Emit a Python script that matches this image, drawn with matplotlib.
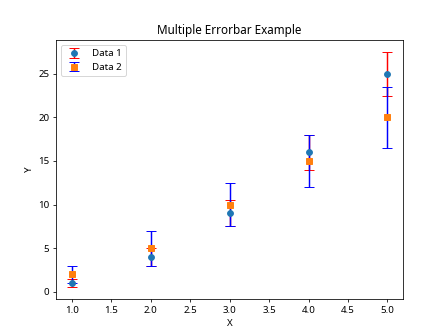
import matplotlib
matplotlib.use("Agg")
import matplotlib.pyplot as plt

plt.rcParams['font.family'] = ['Noto Sans', 'DejaVu Sans']

x = [1, 2, 3, 4, 5]
y1 = [1, 4, 9, 16, 25]
yerr1 = [0.5, 1.0, 1.5, 2.0, 2.5]
y2 = [2, 5, 10, 15, 20]
yerr2 = [1.0, 2.0, 2.5, 3.0, 3.5]

fig, ax = plt.subplots(figsize=(6.4, 4.8), dpi=70)
ax.errorbar(x, y1, yerr=yerr1, fmt='o', ecolor='red', capsize=5, label='Data 1')
ax.errorbar(x, y2, yerr=yerr2, fmt='s', ecolor='blue', capsize=5, label='Data 2')
ax.set_title('Multiple Errorbar Example')
ax.set_xlabel('X')
ax.set_ylabel('Y')
ax.legend(loc='upper left')
fig.savefig('out.png', dpi=70)
